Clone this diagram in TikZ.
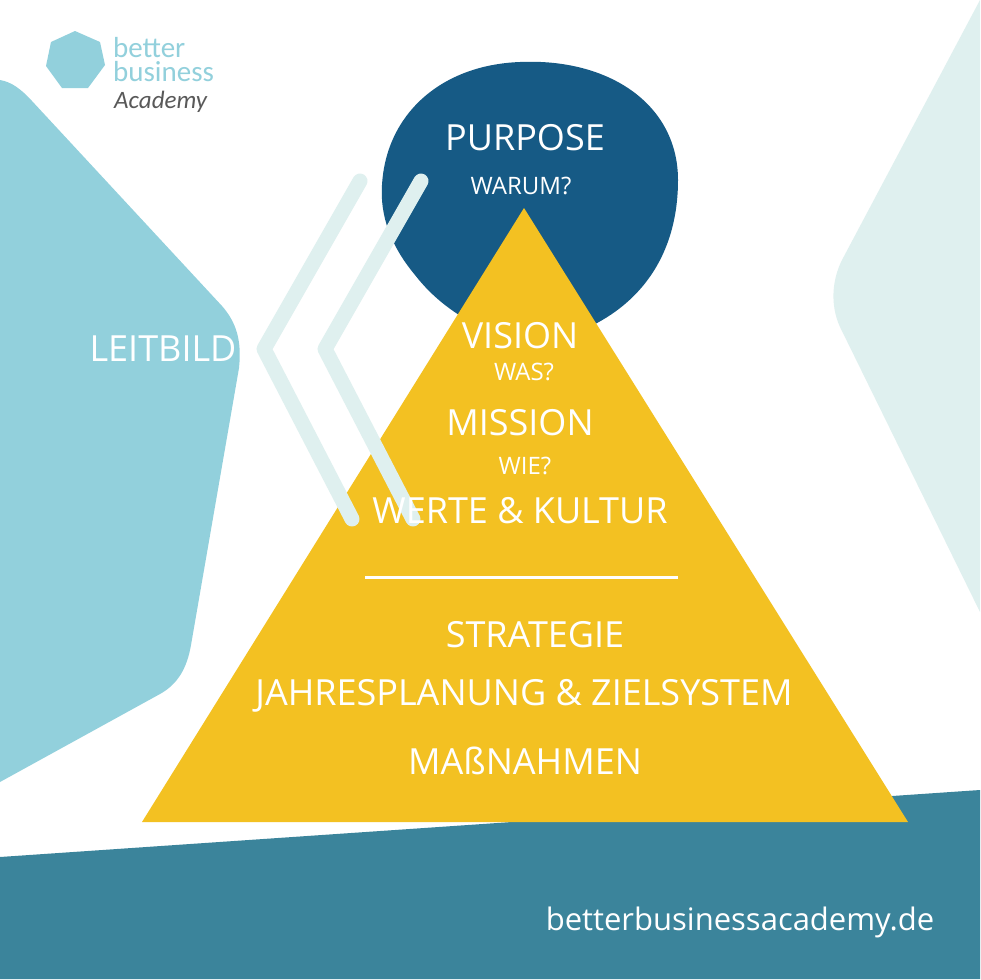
\documentclass[tikz,border=0pt]{standalone}
\usepackage{fontspec}
\setmainfont{Open Sans}
\newfontfamily\logofont{Carlito}
\definecolor{lightblue}{HTML}{92D0DC}
\definecolor{paleblue}{HTML}{DFF0EF}
\definecolor{darkblue}{HTML}{165A85}
\definecolor{pyramid}{HTML}{F3C122}
\definecolor{band}{HTML}{3B849B}
\tikzset{
  big/.style={text=white,font=\fontsize{36}{36}\selectfont,inner sep=0pt},
  small/.style={text=white,font=\fontsize{24}{24}\selectfont,inner sep=0pt},
  chevron/.style={draw=paleblue,line width=15pt,line cap=round,line join=round},
}
\begin{document}
\begin{tikzpicture}[x=1pt,y=-1pt]
\useasboundingbox (0,0) rectangle (980,980);
\fill[white] (0,0) rectangle (980,980);
% background shapes
\fill[lightblue] (0,80) .. controls (12,82) and (22,90) .. (32,101) -- (222,306)
  .. controls (236,322) and (242,340) .. (239,368) -- (191,645)
  .. controls (187,668) and (178,684) .. (160,694) -- (0,782) -- cycle;
\fill[paleblue] (980,0) -- (842,260) .. controls (832,280) and (830,305) .. (840,327)
  -- (980,612) -- cycle;
\fill[band] (0,857) -- (980,790) -- (980,979) -- (0,979) -- cycle;
% logo
\fill[lightblue] (75,31) -- (100,42) -- (105,65) -- (88,88) -- (62,88) -- (46,66) -- (51,42) -- cycle;
\node[anchor=base west,inner sep=0pt,text=lightblue,font=\logofont\fontsize{29}{29}\selectfont] (better) at (113,57) {better};
\node[anchor=base west,inner sep=0pt,text=lightblue,font=\logofont\fontsize{29}{29}\selectfont] (business) at (113,81) {business};
\node[anchor=base west,inner sep=0pt,text=black!65,font=\logofont\itshape\fontsize{25}{25}\selectfont] (academy) at (114,108) {Academy};
% purpose and pyramid
\fill[darkblue] (520,62) .. controls (610,58) and (678,105) .. (678,180)
  .. controls (678,255) and (640,310) .. (570,335)
  .. controls (510,350) and (450,320) .. (415,275)
  .. controls (390,245) and (380,215) .. (382,185)
  .. controls (386,115) and (440,65) .. (520,62) -- cycle;
\fill[pyramid] (524,208) -- (908,822) -- (142,822) -- cycle;
\foreach \x in {0,61}
  \draw[chevron] (360+\x,181) -- (264+\x,349) -- (352+\x,519);
\draw[white,line width=3pt] (365,577) -- (678,577);
% labels
\node[big] (purpose) at (525,138) {PURPOSE};
\node[small] (warum) at (521,186) {WARUM?};
\node[big] (leitbild) at (163,349) {LEITBILD};
\node[big] (vision) at (520,336) {VISION};
\node[small] (was) at (524,372) {WAS?};
\node[big] (mission) at (520,423) {MISSION};
\node[small] (wie) at (525,466) {WIE?};
\node[big] (werte) at (520,511) {WERTE \& KULTUR};
\node[big] (strategie) at (535,635) {STRATEGIE};
\node[big] (jahresplanung) at (524,696) {JAHRESPLANUNG \& ZIELSYSTEM};
\node[big] (massnahmen) at (525,761) {MAßNAHMEN};
\node[text=white,inner sep=0pt,font=\fontsize{31}{31}\selectfont] (web) at (740,922) {betterbusinessacademy.de};
\end{tikzpicture}
\end{document}
